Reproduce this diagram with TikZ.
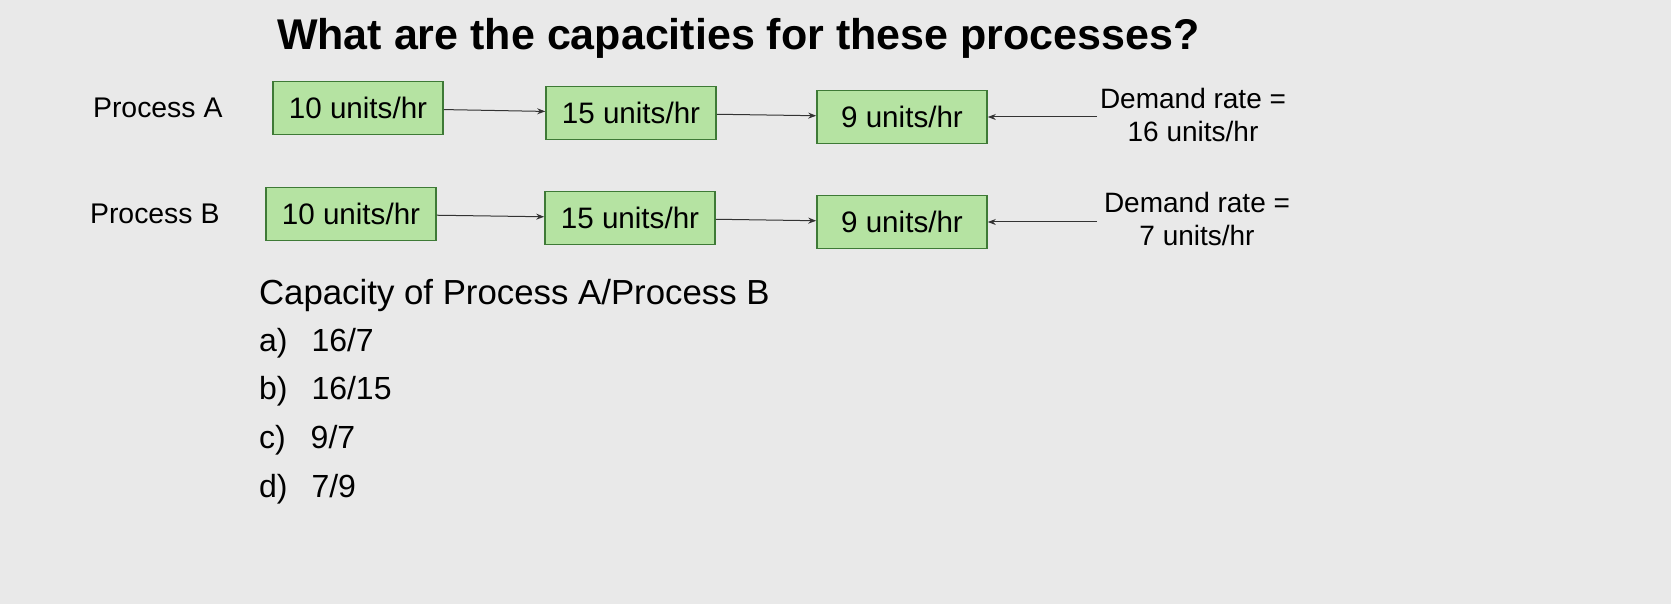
\documentclass[tikz,border=0pt]{standalone}
\usepackage{fontspec}
\setmainfont{Liberation Sans}
\usetikzlibrary{arrows.meta}
\definecolor{bg}{HTML}{E9E9E9}
\definecolor{boxfill}{HTML}{B5E3A2}
\definecolor{boxline}{HTML}{3E7A36}
\begin{document}
\begin{tikzpicture}[x=0.5pt,y=-0.5pt,
  box/.style={draw=boxline,line width=0.8pt,fill=boxfill,minimum width=85pt,minimum height=26.5pt,inner sep=0pt,font=\fontsize{14.8}{17}\selectfont},
  lbl/.style={font=\fontsize{14.2}{17}\selectfont,anchor=west},
  opt/.style={font=\fontsize{16}{19}\selectfont,anchor=west},
  conn/.style={-{Stealth[length=4pt,width=3pt]},line width=0.5pt,black!80}]
\fill[bg] (0,0) rectangle (1671,604);
\useasboundingbox (0,0) rectangle (1671,604);
\node[font=\bfseries\fontsize{21.5}{25}\selectfont,anchor=west] (title) at (270,38) {What are the capacities for these processes?};
\node[lbl] (pa) at (86,108) {Process A};
\node[lbl] (pb) at (83,214) {Process B};
\node[box] (a1) at (358,108) {10 units/hr};
\node[box] (a2) at (631,113) {15 units/hr};
\node[box] (a3) at (902,117) {9 units/hr};
\node[box] (b1) at (351,214) {10 units/hr};
\node[box] (b2) at (630,218) {15 units/hr};
\node[box] (b3) at (902,222) {9 units/hr};
\node[anchor=center,align=center,font=\fontsize{14}{16.5}\selectfont] (da) at (1193,115) {Demand rate =\\16 units/hr};
\node[anchor=center,align=center,font=\fontsize{14}{16.5}\selectfont] (db) at (1197,219) {Demand rate =\\7 units/hr};
\coordinate (ca) at (1097,117);
\coordinate (cb) at (1097,222);
\draw[conn] (a1) -- (a2);
\draw[conn] (a2) -- (a3);
\draw[conn] (ca) -- (a3.east);
\draw[conn] (b1) -- (b2);
\draw[conn] (b2) -- (b3);
\draw[conn] (cb) -- (b3.east);
\node[font=\fontsize{17.4}{21}\selectfont,anchor=west] (cap) at (252,296) {Capacity of Process A/Process B};
\node[opt] (oa) at (252,343) {a)\hspace{12pt}16/7};
\node[opt] (ob) at (252,391) {b)\hspace{12pt}16/15};
\node[opt] (oc) at (252,440) {c)\hspace{12.5pt}9/7};
\node[opt] (od) at (252,489) {d)\hspace{12pt}7/9};
\end{tikzpicture}
\end{document}
